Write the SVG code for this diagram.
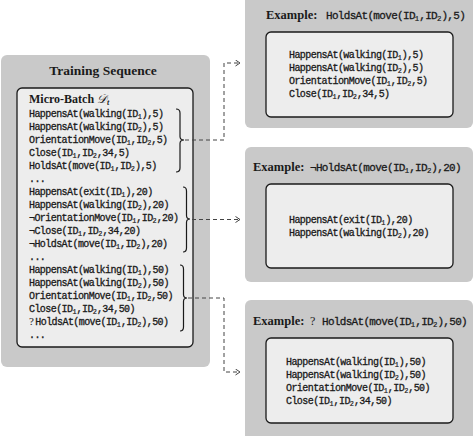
<svg xmlns="http://www.w3.org/2000/svg" width="474" height="436" viewBox="0 0 474 436">
<defs>
<style>
.panel{fill:#c9c9c9}
.box{fill:#ededed;stroke:#1a1a1a;stroke-width:1.3}
.ttl{font-family:"Liberation Serif",serif;font-weight:bold;fill:#1a1a1a}
.code{font-family:"Liberation Mono",monospace;font-size:10px;letter-spacing:-0.57px;fill:#1a1a1a;stroke:#1a1a1a;stroke-width:0.3}
.tcode{font-family:"Liberation Mono",monospace;font-size:11px;letter-spacing:-0.68px;fill:#1a1a1a;stroke:#1a1a1a;stroke-width:0.3}
.sb{font-size:6.8px;letter-spacing:0;stroke-width:0.2}
.tsb{font-size:7.3px;letter-spacing:0;stroke-width:0.2}
.brace{fill:none;stroke:#1a1a1a;stroke-width:1.2}
.conn{fill:none;stroke:#444;stroke-width:1;stroke-dasharray:4 3}
</style>
<marker id="arr" markerUnits="userSpaceOnUse" markerWidth="8" markerHeight="8" refX="5" refY="3.5" orient="auto">
<path d="M0.5,0.5 L5,3.5 L0.5,6.5" fill="none" stroke="#444" stroke-width="1"/>
</marker>
</defs>

<g id="training-sequence">
<rect class="panel" x="1" y="55" width="209" height="312" rx="6"/>
<text class="ttl" x="103" y="75" font-size="13.5" text-anchor="middle">Training Sequence</text>
<rect class="box" x="17" y="88" width="176" height="259" rx="5"/>
<text class="ttl" x="29" y="103" font-size="12">Micro-Batch <tspan font-style="italic" font-weight="normal" font-family="'DejaVu Serif','Liberation Serif',serif">𝒟</tspan><tspan font-style="italic" font-size="8" dy="2">t</tspan></text>
<g class="code">
<text x="29" y="116.5">HappensAt(walking(ID<tspan class="sb" dy="2">1</tspan><tspan dy="-2">),5)</tspan></text>
<text x="29" y="129.5">HappensAt(walking(ID<tspan class="sb" dy="2">2</tspan><tspan dy="-2">),5)</tspan></text>
<text x="29" y="142.5">OrientationMove(ID<tspan class="sb" dy="2">1</tspan><tspan dy="-2">,ID</tspan><tspan class="sb" dy="2">2</tspan><tspan dy="-2">,5)</tspan></text>
<text x="29" y="155.5">Close(ID<tspan class="sb" dy="2">1</tspan><tspan dy="-2">,ID</tspan><tspan class="sb" dy="2">2</tspan><tspan dy="-2">,34,5)</tspan></text>
<text x="29" y="168.5">HoldsAt(move(ID<tspan class="sb" dy="2">1</tspan><tspan dy="-2">,ID</tspan><tspan class="sb" dy="2">2</tspan><tspan dy="-2">),5)</tspan></text>
<text x="29" y="181.5">...</text>
<text x="29" y="194.5">HappensAt(exit(ID<tspan class="sb" dy="2">1</tspan><tspan dy="-2">),20)</tspan></text>
<text x="29" y="207.5">HappensAt(walking(ID<tspan class="sb" dy="2">2</tspan><tspan dy="-2">),20)</tspan></text>
<text x="29" y="220.5">¬OrientationMove(ID<tspan class="sb" dy="2">1</tspan><tspan dy="-2">,ID</tspan><tspan class="sb" dy="2">2</tspan><tspan dy="-2">,20)</tspan></text>
<text x="29" y="233.5">¬Close(ID<tspan class="sb" dy="2">1</tspan><tspan dy="-2">,ID</tspan><tspan class="sb" dy="2">2</tspan><tspan dy="-2">,34,20)</tspan></text>
<text x="29" y="246.5">¬HoldsAt(move(ID<tspan class="sb" dy="2">1</tspan><tspan dy="-2">,ID</tspan><tspan class="sb" dy="2">2</tspan><tspan dy="-2">),20)</tspan></text>
<text x="29" y="259.5">...</text>
<text x="29" y="272.5">HappensAt(walking(ID<tspan class="sb" dy="2">1</tspan><tspan dy="-2">),50)</tspan></text>
<text x="29" y="285.5">HappensAt(walking(ID<tspan class="sb" dy="2">2</tspan><tspan dy="-2">),50)</tspan></text>
<text x="29" y="298.5">OrientationMove(ID<tspan class="sb" dy="2">1</tspan><tspan dy="-2">,ID</tspan><tspan class="sb" dy="2">2</tspan><tspan dy="-2">,50)</tspan></text>
<text x="29" y="311.5">Close(ID<tspan class="sb" dy="2">1</tspan><tspan dy="-2">,ID</tspan><tspan class="sb" dy="2">2</tspan><tspan dy="-2">,34,50)</tspan></text>
<text x="29" y="324.5"><tspan font-family="'Liberation Serif',serif" font-size="11" stroke-width="0">?</tspan><tspan dx="2">HoldsAt(move(ID</tspan><tspan class="sb" dy="2">1</tspan><tspan dy="-2">,ID</tspan><tspan class="sb" dy="2">2</tspan><tspan dy="-2">),50)</tspan></text>
<text x="29" y="337.5">...</text>
</g>
<path class="brace" d="M176,109 Q180,109 180,113 L180,136.5 Q180,140 184,140 Q180,140 180,143.5 L180,168 Q180,172 176,172"/>
<path class="brace" d="M183,187 Q186.5,187 186.5,191 L186.5,215.5 Q186.5,219 190,219 Q186.5,219 186.5,222.5 L186.5,248 Q186.5,252 183,252"/>
<path class="brace" d="M180,265 Q183.5,265 183.5,269 L183.5,294.5 Q183.5,298 187,298 Q183.5,298 183.5,301.5 L183.5,327 Q183.5,331 180,331"/>
</g>

<g id="example-1">
<rect class="panel" x="245" y="-6" width="228" height="134" rx="6"/>
<text class="ttl" x="266" y="19" font-size="12.5">Example:</text>
<text class="tcode" x="326" y="19">HoldsAt(move(ID<tspan class="tsb" dy="2">1</tspan><tspan dy="-2">,ID</tspan><tspan class="tsb" dy="2">2</tspan><tspan dy="-2">),5)</tspan></text>
<rect class="box" x="266" y="32" width="187" height="85" rx="5"/>
<g class="code">
<text x="289" y="57.5">HappensAt(walking(ID<tspan class="sb" dy="2">1</tspan><tspan dy="-2">),5)</tspan></text>
<text x="289" y="70.5">HappensAt(walking(ID<tspan class="sb" dy="2">2</tspan><tspan dy="-2">),5)</tspan></text>
<text x="289" y="83.5">OrientationMove(ID<tspan class="sb" dy="2">1</tspan><tspan dy="-2">,ID</tspan><tspan class="sb" dy="2">2</tspan><tspan dy="-2">,5)</tspan></text>
<text x="289" y="96.5">Close(ID<tspan class="sb" dy="2">1</tspan><tspan dy="-2">,ID</tspan><tspan class="sb" dy="2">2</tspan><tspan dy="-2">,34,5)</tspan></text>
</g>
</g>

<g id="example-2">
<rect class="panel" x="245" y="147" width="228" height="135" rx="6"/>
<text class="ttl" x="253" y="171" font-size="12.5">Example:</text>
<text class="tcode" x="310" y="171">¬HoldsAt(move(ID<tspan class="tsb" dy="2">1</tspan><tspan dy="-2">,ID</tspan><tspan class="tsb" dy="2">2</tspan><tspan dy="-2">),20)</tspan></text>
<rect class="box" x="266" y="184" width="187" height="84" rx="5"/>
<g class="code">
<text x="289" y="222.5">HappensAt(exit(ID<tspan class="sb" dy="2">1</tspan><tspan dy="-2">),20)</tspan></text>
<text x="289" y="236">HappensAt(walking(ID<tspan class="sb" dy="2">2</tspan><tspan dy="-2">),20)</tspan></text>
</g>
</g>

<g id="example-3">
<rect class="panel" x="245" y="300" width="228" height="142" rx="6"/>
<text class="ttl" x="253" y="325" font-size="12.5">Example:</text>
<text x="310" y="325" font-family="'Liberation Serif',serif" font-size="12" fill="#1a1a1a">?</text>
<text class="tcode" x="322" y="325">HoldsAt(move(ID<tspan class="tsb" dy="2">1</tspan><tspan dy="-2">,ID</tspan><tspan class="tsb" dy="2">2</tspan><tspan dy="-2">),50)</tspan></text>
<rect class="box" x="266" y="338" width="187" height="85" rx="5"/>
<g class="code">
<text x="286" y="364.5">HappensAt(walking(ID<tspan class="sb" dy="2">1</tspan><tspan dy="-2">),50)</tspan></text>
<text x="286" y="377.5">HappensAt(walking(ID<tspan class="sb" dy="2">2</tspan><tspan dy="-2">),50)</tspan></text>
<text x="286" y="390.5">OrientationMove(ID<tspan class="sb" dy="2">1</tspan><tspan dy="-2">,ID</tspan><tspan class="sb" dy="2">2</tspan><tspan dy="-2">,50)</tspan></text>
<text x="286" y="403.5">Close(ID<tspan class="sb" dy="2">1</tspan><tspan dy="-2">,ID</tspan><tspan class="sb" dy="2">2</tspan><tspan dy="-2">,34,50)</tspan></text>
</g>
</g>

<g id="connectors">
<path class="conn" d="M185,140 H224 V63 H240" marker-end="url(#arr)"/>
<path class="conn" d="M192,219.5 H240" marker-end="url(#arr)"/>
<path class="conn" d="M188,298 H224 V372 H240" marker-end="url(#arr)"/>
</g>
</svg>
